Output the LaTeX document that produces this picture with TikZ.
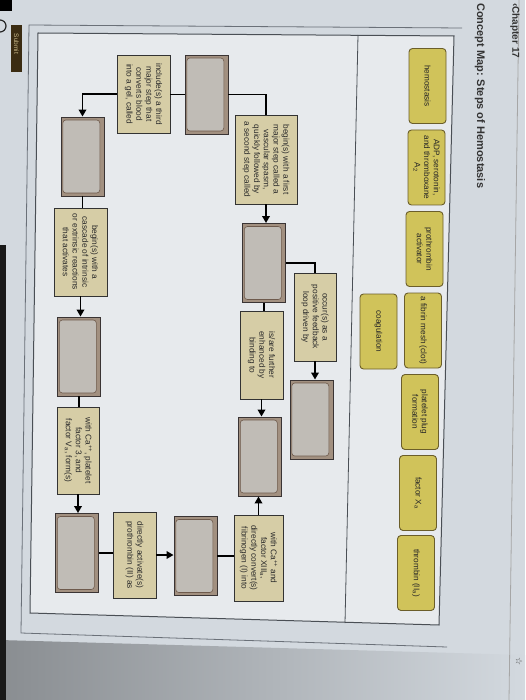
\documentclass[tikz,border=0pt]{standalone}
\usepackage{fontspec}
\setmainfont{Liberation Sans}
\newfontfamily\dejavu{DejaVu Sans}
\usetikzlibrary{arrows.meta}
\definecolor{tanfill}{HTML}{D6CDA6}
\definecolor{eouter}{HTML}{A29080}
\definecolor{eborder}{HTML}{3A3434}
\definecolor{einnerfill}{HTML}{C0BCB6}
\definecolor{einnerborder}{HTML}{6E5A4C}
\definecolor{wfill}{HTML}{D0C35A}
\definecolor{wborder}{HTML}{6B5E2A}
\definecolor{bgcol}{HTML}{D3D9DF}
\definecolor{panelcol}{HTML}{E7EAED}
\definecolor{framecol}{HTML}{4A4F55}
\definecolor{outerframe}{HTML}{6A7078}
\definecolor{txtcol}{HTML}{2A2A2A}
\definecolor{submitbg}{HTML}{3B2C12}
\definecolor{submittxt}{HTML}{C9B98A}
\newcommand{\ebx}[3]{%
  \node[ebox] (#1) at (#2,#3) {};
  \node[einner] at ([xshift=-1.2pt]#1.center) {};}
\begin{document}
\begin{tikzpicture}[x=1pt,y=-1pt,
  tbox/.style={draw=black!80, line width=0.9pt, fill=tanfill, rotate=-90,
    align=center, font=\fontsize{8.3}{9.8}\selectfont, inner sep=0pt, text=txtcol},
  ebox/.style={draw=eborder, line width=0.9pt, fill=eouter,
    minimum width=43pt, minimum height=79pt, inner sep=0pt},
  einner/.style={draw=einnerborder, line width=0.6pt, fill=einnerfill,
    rounded corners=3pt, minimum width=37pt, minimum height=73pt, inner sep=0pt},
  wbox/.style={draw=wborder, line width=0.9pt, fill=wfill, rounded corners=3.5pt,
    rotate=-90, align=center, font=\fontsize{8.2}{9.6}\selectfont, text=black!85,
    minimum width=75pt, minimum height=37pt, inner sep=0pt},
  conn/.style={line width=1.8pt, draw=black},
  arr/.style={conn, -{Triangle[length=7pt,width=7.5pt]}}]
\useasboundingbox (0,0) rectangle (525,700);
\clip (0,0) rectangle (525,700);
% background
\fill[bgcol] (0,0) rectangle (525,700);
\shade[left color=black!35!bgcol, right color=bgcol] (0,640) -- (525,655) -- (525,700) -- (0,700) -- cycle;
\fill[black!90] (0,245) rectangle (6,700);
\fill[black] (0,0) rectangle (12,11);
\draw[black!85, line width=1.2pt] (0,26) circle (6);
\fill[submitbg] (11,25) rectangle (22,72);
\node[rotate=-90, font=\fontsize{6.5}{7}\selectfont, text=submittxt] (submit) at (16.5,44) {Submit};
\draw[black!35, line width=0.8pt] (519,0) -- (509,700);
\node[rotate=-90, font=\dejavu\fontsize{9}{9}\selectfont, text=black!70] (star) at (519,662) {☆};
% title
\node[rotate=-90, anchor=west, font=\bfseries\fontsize{10}{11}\selectfont, text=black!80, inner sep=0pt] (chap) at (515,3) {‹Chapter 17};
\node[rotate=-90, anchor=west, font=\bfseries\fontsize{11}{12}\selectfont, text=black!80, inner sep=0pt] (title) at (480,3) {Concept Map: Steps of Hemostasis};
% frames
\draw[outerframe, line width=0.8pt] (462,28) -- (29,25) -- (21,633) -- (447,647);
\draw[framecol, fill=panelcol, line width=1pt] (38,33) -- (454,36) -- (439,625) -- (30,613) -- cycle;
\draw[framecol, line width=0.8pt] (358,35) -- (345,623);
% word bank
\node[wbox] (w1) at (427.5,86) {hemostasis};
\node[wbox] (w2) at (426.5,167.5) {ADP, serotonin,\\and thromboxane\\A\textsubscript{2}};
\node[wbox] (w3) at (424.5,249) {prothrombin\\activator};
\node[wbox] (w4) at (423,330.5) {a fibrin mesh (clot)};
\node[wbox] (w5) at (378.5,331.5) {coagulation};
\node[wbox] (w6) at (420,412) {platelet plug\\formation};
\node[wbox] (w7) at (418,493) {factor X\textsubscript{a}};
\node[wbox] (w8) at (416,573) {thrombin (II\textsubscript{a})};
% empty concept boxes
\ebx{A}{206.5}{94.5}
\ebx{B}{82.5}{156.5}
\ebx{C}{79}{356.5}
\ebx{D}{77}{553}
\ebx{E}{195.5}{556}
\ebx{F}{260}{456.5}
\ebx{G}{264}{263}
\ebx{H}{311.5}{419.5}
% linking phrases
\node[tbox, minimum width=78pt, minimum height=53pt] (inc) at (143.5,94) {include(s) a third\\major step that\\converts blood\\into a gel, called};
\node[tbox, minimum width=89pt, minimum height=62pt] (beg) at (266,159.5) {begin(s) with a first\\major step called a\\vascular spasm,\\quickly followed by\\a second step called};
\node[tbox, minimum width=88pt, minimum height=53pt] (casc) at (80.5,252) {begin(s) with a\\cascade of intrinsic\\or extrinsic reactions\\that activates};
\node[tbox, minimum width=87pt, minimum height=42pt] (ca) at (78,450.5) {with Ca\textsuperscript{++}, platelet\\factor 3, and\\factor V\textsubscript{a}, form(s)};
\node[tbox, minimum width=86pt, minimum height=43pt] (dir) at (134.5,555) {directly activate(s)\\prothrombin (II) as};
\node[tbox, minimum width=86pt, minimum height=49pt] (fib) at (258.5,558) {with Ca\textsuperscript{++} and\\factor XIII\textsubscript{a},\\directly convert(s)\\fibrinogen (I) into};
\node[tbox, minimum width=88pt, minimum height=43pt] (enh) at (261.5,355) {is/are further\\enhanced by\\binding to};
\node[tbox, minimum width=88pt, minimum height=42pt] (feed) at (315,317) {occur(s) as a\\positive feedback\\loop driven by};
% connectors
\draw[conn] (A.west) -- (A.west -| inc.north);
\draw[conn] (A.east) -| (beg.west);
\draw[arr] (inc.south) -| (B.north);
\draw[conn] (B.south) -- (B.south |- casc.west);
\draw[arr] (casc.east) -- (casc.east |- C.north);
\draw[conn] (C.south) -- (C.south |- ca.west);
\draw[arr] (ca.east) -- (ca.east |- D.north);
\draw[conn] (D.east) -- (D.east -| dir.south);
\draw[arr] (dir.north) -- (dir.north -| E.west);
\draw[conn] (E.east) -- (E.east -| fib.south);
\draw[arr] (fib.west) -- (fib.west |- F.south);
\draw[arr] (beg.east) -- (beg.east |- G.north);
\draw[conn] (G.south) -- (G.south |- enh.west);
\draw[arr] (enh.east) -- (enh.east |- F.north);
\draw[conn] (G.east) -| (feed.west);
\draw[arr] (feed.east) -- (feed.east |- H.north);
\end{tikzpicture}
\end{document}
